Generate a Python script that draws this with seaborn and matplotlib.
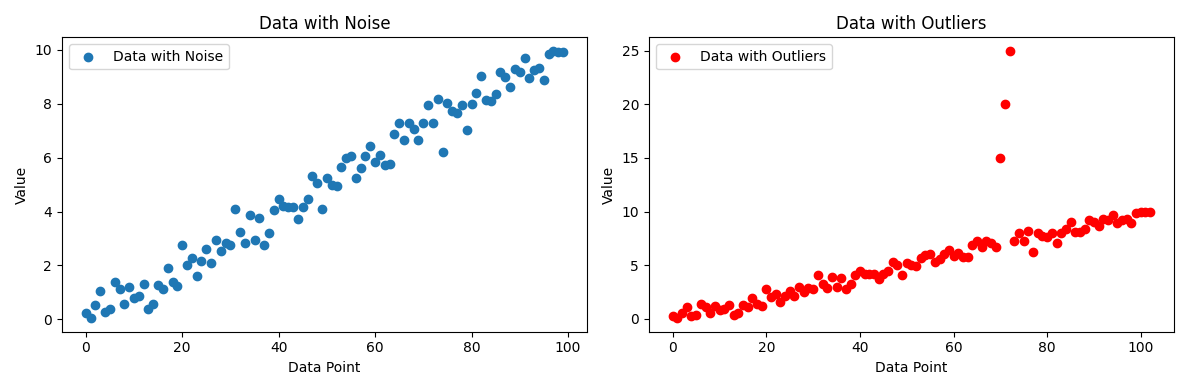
import numpy as np
import pandas as pd
import matplotlib
matplotlib.use('Agg')
import matplotlib.pyplot as plt
import seaborn as sns

# Values
noise_values = [
    0.25, 0.04, 0.54, 1.07, 0.27, 0.39, 1.40, 1.11, 0.57, 1.19,
    0.79, 0.88, 1.32, 0.37, 0.57, 1.26, 1.11, 1.91, 1.37, 1.23,
    2.77, 2.00, 2.27, 1.61, 2.15, 2.60, 2.08, 2.95, 2.54, 2.83,
    2.76, 4.09, 3.23, 2.83, 3.86, 2.95, 3.76, 2.76, 3.20, 4.05,
    4.45, 4.22, 4.18, 4.18, 3.72, 4.18, 4.45, 5.32, 5.05, 4.09,
    5.23, 4.98, 4.93, 5.64, 5.97, 6.06, 5.25, 5.62, 6.06, 6.44,
    5.82, 6.10, 5.73, 5.76, 6.87, 7.27, 6.66, 7.28, 7.04, 6.66,
    7.28, 7.96, 7.28, 8.17, 6.20, 8.02, 7.73, 7.65, 7.96, 7.02,
    8.00, 8.39, 9.02, 8.13, 8.08, 8.35, 9.18, 8.99, 8.63, 9.28,
    9.17, 9.70, 8.95, 9.25, 9.31, 8.89, 9.85, 9.96, 9.92, 9.92,
]
outlier_index = 70
outlier_values = [15, 20, 25]

noise_df = pd.DataFrame({'point': np.arange(len(noise_values)), 'value': noise_values})
outlier_series = noise_values[:outlier_index] + outlier_values + noise_values[outlier_index:]
outlier_df = pd.DataFrame({'point': np.arange(len(outlier_series)), 'value': outlier_series})

fig, axes = plt.subplots(1, 2, figsize=(11.89, 3.9), dpi=100)

# Left: noisy data
ax = axes[0]
sns.scatterplot(x='point', y='value', data=noise_df, ax=ax, color='#1f77b4',
                s=36, edgecolor='#1f77b4', linewidth=1, label='Data with Noise')
ax.set_title('Data with Noise')
ax.set_xlabel('Data Point')
ax.set_ylabel('Value')
ax.legend(loc='upper left')

# Right: same data with outliers inserted
ax = axes[1]
sns.scatterplot(x='point', y='value', data=outlier_df, ax=ax, color='red',
                s=36, edgecolor='red', linewidth=1, label='Data with Outliers')
ax.set_title('Data with Outliers')
ax.set_xlabel('Data Point')
ax.set_ylabel('Value')
ax.legend(loc='upper left')

plt.tight_layout()
plt.savefig('out.png')
plt.close()
